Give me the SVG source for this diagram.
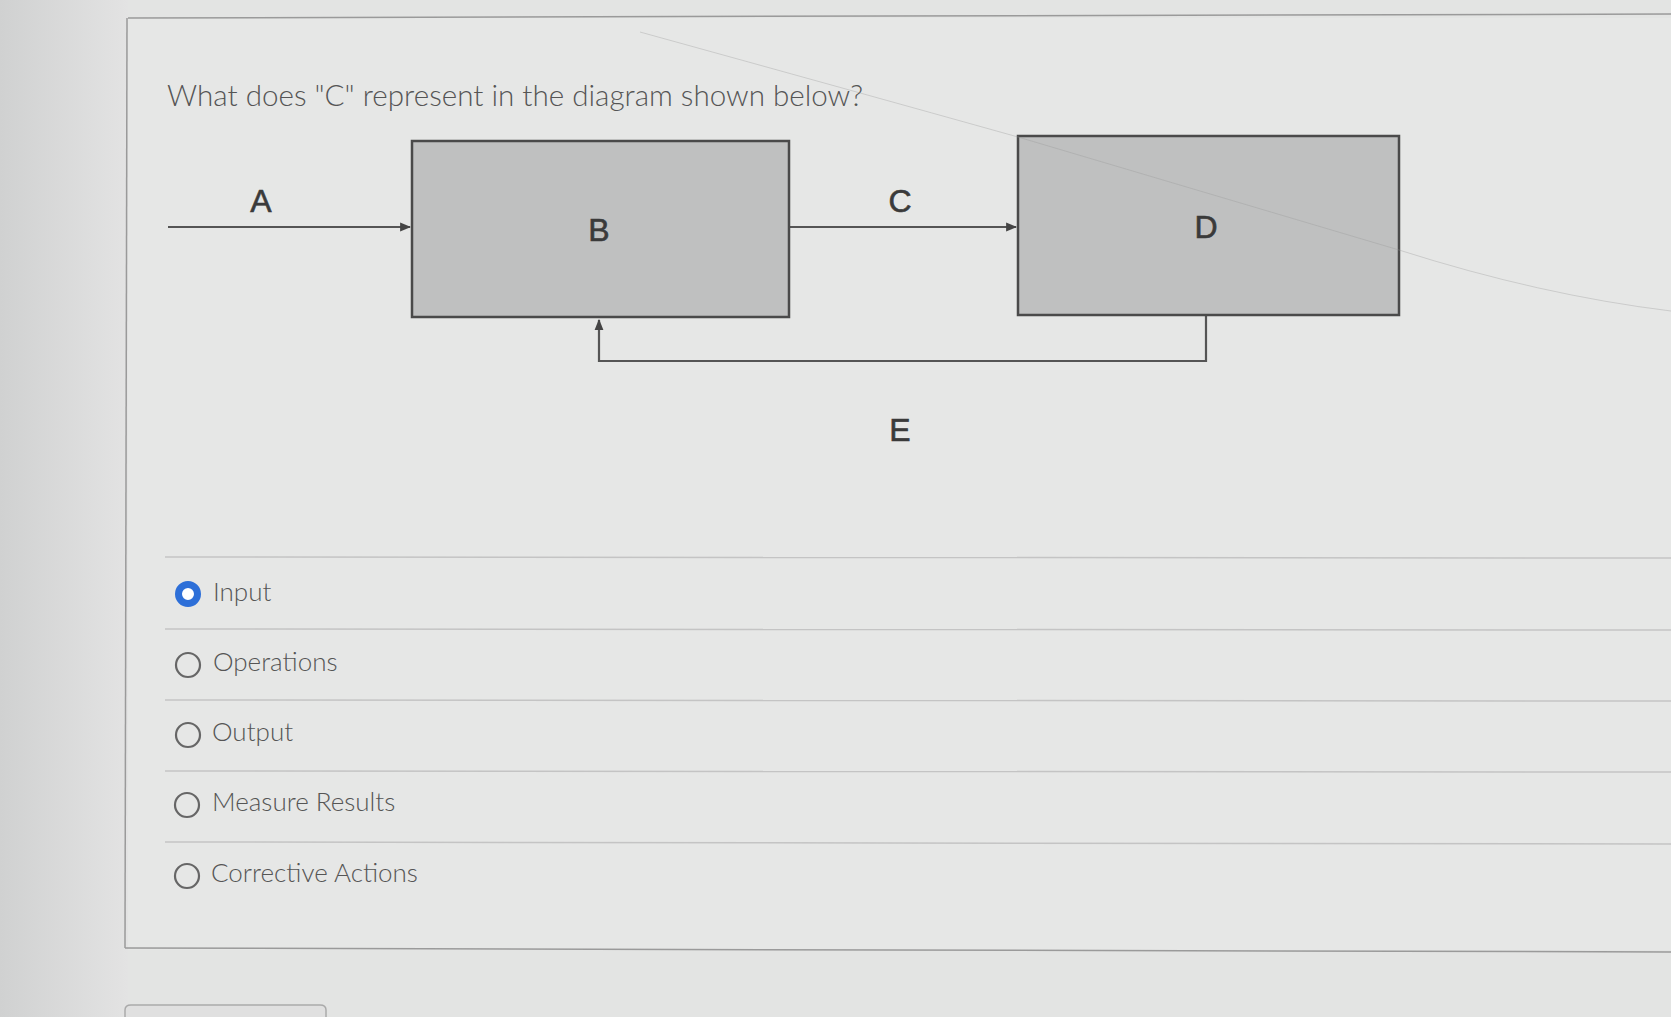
<svg xmlns="http://www.w3.org/2000/svg" width="1671" height="1017" viewBox="0 0 1671 1017">
<defs>
<linearGradient id="outer" x1="0" y1="0" x2="1" y2="0">
<stop offset="0" stop-color="#d0d1d1"/>
<stop offset="1" stop-color="#e3e3e3"/>
</linearGradient>
<marker id="arr" viewBox="0 0 10 10" refX="9" refY="5" markerWidth="5" markerHeight="5" orient="auto">
<path d="M0,1 L10,5 L0,9 z" fill="#444"/>
</marker>
<style>
.box{fill:#bfc0c0;stroke:#4a4a4a;stroke-width:2.5}
.lbl{font-family:"Liberation Sans",Arial,sans-serif;font-size:32px;fill:#3a3a3a;text-anchor:middle;stroke:#3a3a3a;stroke-width:0.6}
.conn{fill:none;stroke:#555;stroke-width:2.2}
.opt{font-family:Lato,"Open Sans",sans-serif;font-size:26px;fill:#555;font-weight:300}
.sep{stroke:#c4c4c4;stroke-width:1.5}
.radio{fill:none;stroke:#666;stroke-width:2.2}
</style>
</defs>
<rect x="0" y="0" width="1671" height="1017" fill="#e6e7e6"/>
<rect x="0" y="0" width="128" height="1017" fill="url(#outer)"/>
<rect x="128" y="950" width="1543" height="67" fill="#e3e4e3"/>
<rect x="128" y="0" width="1543" height="18" fill="#e3e4e3"/>
<line x1="128" y1="18" x2="1671" y2="14" stroke="#9a9a9a" stroke-width="1.5"/>
<line x1="127" y1="18" x2="125" y2="948" stroke="#9a9a9a" stroke-width="1.5"/>
<line x1="125" y1="948" x2="1671" y2="952" stroke="#9a9a9a" stroke-width="1.5"/>
<path d="M125,1017 L125,1010 Q125,1005 131,1005 L320,1005 Q326,1005 326,1010 L326,1017" fill="#e0e0e0" stroke="#aaa" stroke-width="1.5"/>
<text x="167" y="106" font-family="Lato,'Open Sans',sans-serif" font-size="29.6" font-weight="300" fill="#555">What does "C" represent in the diagram shown below?</text>
<g id="connectors">
<line class="conn" x1="168" y1="227" x2="410" y2="227" marker-end="url(#arr)"/>
<line class="conn" x1="789" y1="227" x2="1016" y2="227" marker-end="url(#arr)"/>
<polyline class="conn" points="1206,315 1206,361 599,361 599,320" marker-end="url(#arr)"/>
</g>
<g id="nodeB">
<rect class="box" x="412" y="141" width="377" height="176"/>
<text class="lbl" x="599" y="241">B</text>
</g>
<g id="nodeD">
<rect class="box" x="1018" y="136" width="381" height="179"/>
<text class="lbl" x="1206" y="238">D</text>
</g>
<path d="M640,32 Q850,90 1018,137 L1399,250 Q1540,295 1671,311" fill="none" stroke="#999" stroke-width="1" opacity="0.35"/>
<g id="labelA"><text class="lbl" x="261" y="212">A</text></g>
<g id="labelC"><text class="lbl" x="900" y="212">C</text></g>
<g id="labelE"><text class="lbl" x="900" y="441">E</text></g>
<g id="options">
<line class="sep" x1="165" y1="557" x2="1671" y2="558"/>
<line class="sep" x1="165" y1="629" x2="1671" y2="630"/>
<line class="sep" x1="165" y1="700" x2="1671" y2="701"/>
<line class="sep" x1="165" y1="771" x2="1671" y2="772"/>
<line class="sep" x1="165" y1="842" x2="1671" y2="844"/>
<circle cx="188" cy="594" r="9.5" fill="#fff" stroke="#2d6fd8" stroke-width="7"/>
<text class="opt" x="213" y="601">Input</text>
<circle class="radio" cx="188" cy="665" r="12"/>
<text class="opt" x="213" y="671">Operations</text>
<circle class="radio" cx="188" cy="735" r="12"/>
<text class="opt" x="212" y="741">Output</text>
<circle class="radio" cx="187" cy="805" r="12"/>
<text class="opt" x="212" y="811">Measure Results</text>
<circle class="radio" cx="187" cy="876" r="12"/>
<text class="opt" x="211" y="882">Corrective Actions</text>
</g>
</svg>
